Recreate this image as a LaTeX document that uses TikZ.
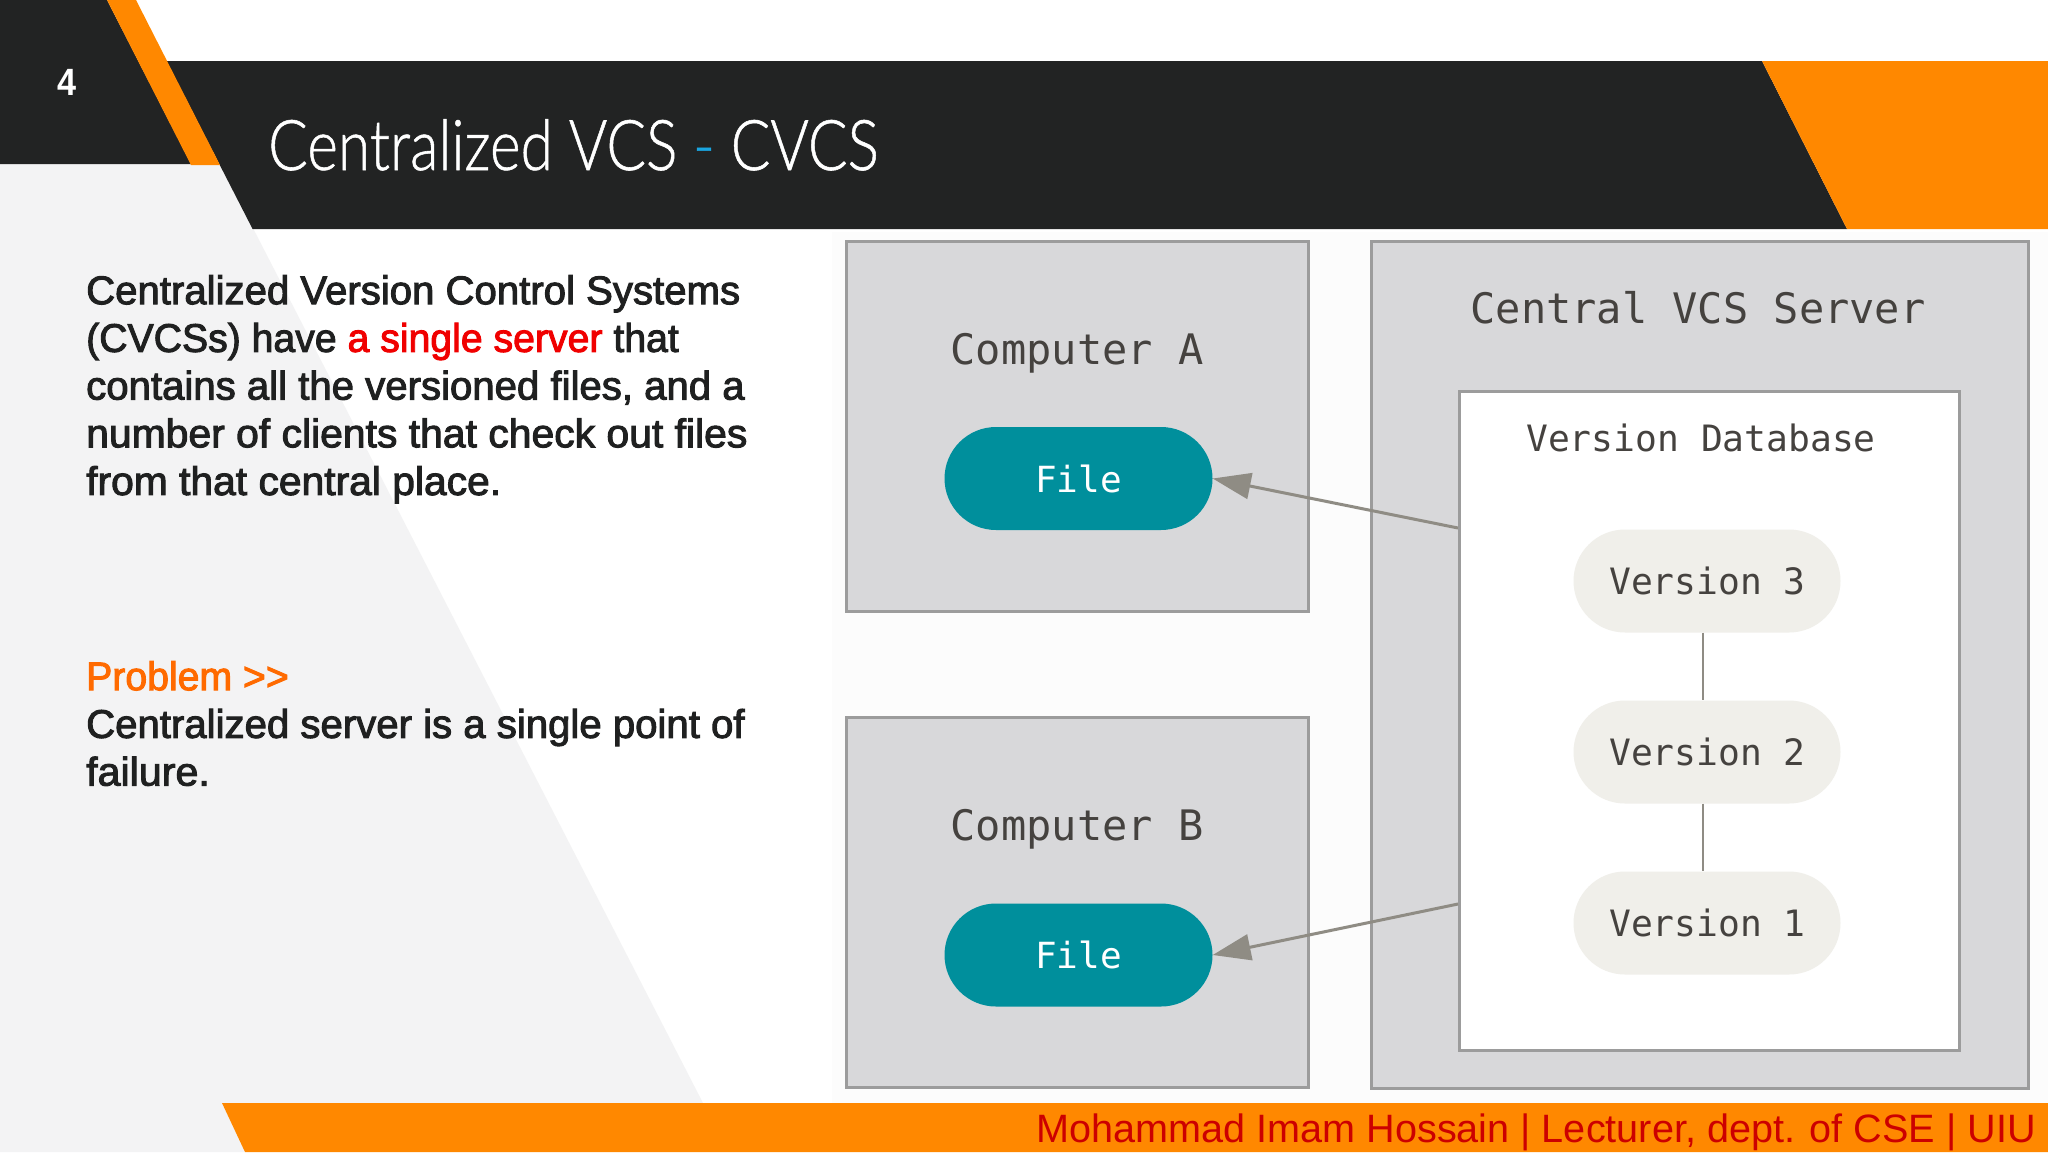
\documentclass[tikz,border=0pt]{standalone}
\usepackage{fontspec}
\usepackage{graphicx}
\usetikzlibrary{arrows.meta,calc,shapes.misc}
\setmainfont{Liberation Sans}[FakeBold=2.4]
\newfontfamily\titlef{Lato Light}[FakeBold=0.8]
\newfontfamily\monof{DejaVu Sans Mono}
\newfontfamily\footf{Liberation Sans}
\newcommand{\linefit}[2]{\scalebox{#1}[1]{#2}}
\definecolor{dark}{HTML}{222323}
\definecolor{orng}{HTML}{FF8800}
\definecolor{lgray}{HTML}{F3F3F4}
\definecolor{boxfill}{HTML}{D8D8DA}
\definecolor{boxline}{HTML}{9C9C9C}
\definecolor{teal1}{HTML}{008F9C}
\definecolor{verfill}{HTML}{F0EFEA}
\definecolor{arrowc}{HTML}{8F8C84}
\definecolor{monot}{HTML}{45423F}
\definecolor{bodyt}{HTML}{1F2020}
\tikzset{
  x=1pt,y=-1pt,
  panel/.style={draw=boxline,line width=3pt,fill=boxfill,inner sep=0pt},
  pill/.style={rounded rectangle,draw=none,inner sep=0pt,minimum height=103pt,text depth=0pt},
  filepill/.style={pill,fill=teal1,text=white,minimum width=268pt,font=\monof\fontsize{36}{36}\selectfont},
  verpill/.style={pill,fill=verfill,text=monot,minimum width=267pt,font=\monof\fontsize{36.3}{36}\selectfont},
  lbl/.style={text=monot,inner sep=0pt},
  big/.style={font=\monof\fontsize{42}{42}\selectfont},
  small/.style={font=\monof\fontsize{36.3}{36}\selectfont},
  conn/.style={draw=arrowc,line width=3pt},
  arrowed/.style={conn,-{Triangle[length=38pt,width=26pt,fill=arrowc]}},
  para/.style={text=bodyt,inner sep=0pt,align=left,anchor=north west,font=\fontsize{40}{47.7}\selectfont}
}
\begin{document}
\begin{tikzpicture}
\useasboundingbox (0,0) rectangle (2048,1152);
\fill[white] (0,0) rectangle (2048,1152);
\fill[lgray] (0,164) -- (220,164) -- (703,1103) -- (222,1103) -- (245,1152) -- (0,1152) -- cycle;
\fill[dark] (166.5,61) -- (1762,61) -- (1847,229) -- (252.6,229) -- cycle;
\fill[orng] (1762,61) -- (2048,61) -- (2048,229) -- (1847,229) -- cycle;
\fill[dark] (0,0) -- (107,0) -- (191,164) -- (0,164) -- cycle;
\fill[orng] (107,0) -- (136,0) -- (220,165) -- (191,165) -- cycle;
\fill[orng] (222,1103) -- (2048,1103) -- (2048,1152) -- (245,1152) -- cycle;
\fill[white!99!black] (832,232) rectangle (2048,1103);
% number and title
\node[text=white,inner sep=0pt,font=\footf\bfseries\fontsize{38}{38}\selectfont] (num) at (67,82) {\scalebox{0.9}[1]{4}};
\node[text=white,inner sep=0pt,anchor=base west,font=\titlef\fontsize{70}{70}\selectfont] (title) at (268,170) {\scalebox{0.838}[1]{Centralized VCS \textcolor[HTML]{1AA5E0}{-} CVCS}};
% body
\node[para] (p1) at (86,275) {\linefit{1.004}{Centralized Version Control Systems}\\\linefit{0.98}{(CVCSs) have \textcolor[HTML]{F00000}{a single server} that}\\\linefit{1.004}{contains all the versioned files, and a}\\\linefit{1.022}{number of clients that check out files}\\\linefit{1.02}{from that central place.}};
\node[para] (p2) at (86,661) {\linefit{0.98}{\textcolor[HTML]{FF6A00}{Problem >{}>}}\\\linefit{1.004}{Centralized server is a single point of}\\\linefit{1.03}{failure.}};
% panels
\node[panel,minimum width=462pt,minimum height=370pt] (compa) at (1077,426) {};
\node[panel,minimum width=462pt,minimum height=370pt] (compb) at (1077,902.5) {};
\node[panel,minimum width=657pt,minimum height=847pt] (server) at (1699.5,664.5) {};
\node[panel,fill=white,minimum width=500pt,minimum height=659pt] (db) at (1709,720.5) {};
\node[lbl,big] (la) at (1077,353) {Computer A};
\node[lbl,big] (lb) at (1077,829) {Computer B};
\node[lbl,big] (ls) at (1698,308) {Central VCS Server};
\node[lbl,small] (ld) at (1701,438) {Version Database};
\node[filepill] (fa) at (1078.5,478.5) {File};
\node[filepill] (fb) at (1078.5,955) {File};
\node[verpill] (v3) at (1707,581) {\hspace*{1pt}Version 3};
\node[verpill] (v2) at (1707,752) {\hspace*{1pt}Version 2};
\node[verpill] (v1) at (1707,923) {\hspace*{1pt}Version 1};
\draw[conn,line width=2.5pt] ([xshift=-4pt]v3.south) -- ([xshift=-4pt]v2.north);
\draw[conn,line width=2.5pt] ([xshift=-4pt]v2.south) -- ([xshift=-4pt]v1.north);
\coordinate (da) at (1458,528);
\coordinate (dbb) at (1458,904);
\draw[arrowed] (da) -- (fa.east);
\draw[arrowed] (dbb) -- (fb.east);
% footer
\node[text=red!80!black,inner sep=0pt,anchor=base east,font=\footf\fontsize{39.6}{40}\selectfont] (foot) at (2036,1142) {Mohammad Imam Hossain | Lecturer, dept. of CSE | UIU};
\end{tikzpicture}
\end{document}
